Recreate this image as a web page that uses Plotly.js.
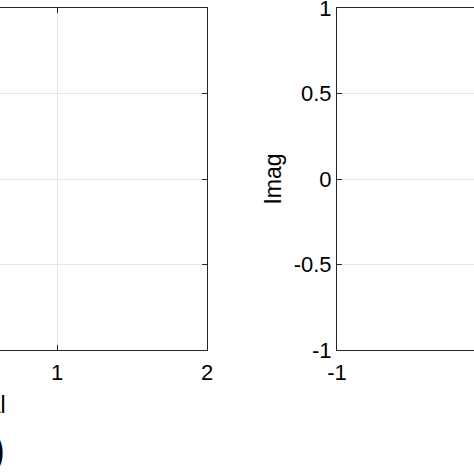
<!DOCTYPE html>
<html>
<head>
<meta charset="utf-8">
<script src="https://cdn.plot.ly/plotly-3.0.1.min.js"></script>
<style>
  html, body { margin: 0; padding: 0; width: 474px; height: 474px; overflow: hidden; background: #ffffff; }
  #grafico { position: absolute; left: -303px; top: 0; width: 1150px; height: 474px; }
</style>
</head>
<body>
<div id="grafico"></div>
<script>
// valores dos eixos (as duas figuras estao vazias neste recorte)
var ticksReal = [-1, 0, 1, 2];
var rotulosReal = ['-1', '0', '1', '2'];
var ticksImag = [-1, -0.5, 0, 0.5, 1];
var rotulosImag = ['-1', '-0.5', '0', '0.5', '1'];
var faixaReal = [-1, 2];
var faixaImag = [-1, 1];
var realEsq = [], imagEsq = [];
var realDir = [], imagDir = [];

var corEixo = '#262626';
var corGrade = '#e6e6e6';
var fonte = 'Liberation Sans, Arial, Helvetica, sans-serif';

function eixoX(dominio, ancora) {
    return {
        domain: dominio, anchor: ancora, range: faixaReal,
        tickvals: ticksReal, ticktext: rotulosReal, ticks: 'inside', ticklen: 5, tickcolor: corEixo,
        showline: true, linecolor: corEixo, linewidth: 1, mirror: 'ticks',
        showgrid: true, gridcolor: corGrade, zeroline: false,
        ticklabeloverflow: 'allow', ticklabelstandoff: 3,
        tickfont: { family: fonte, size: 22, color: '#000000' }
    };
}

function eixoY(ancora) {
    return {
        domain: [0, 1], anchor: ancora, range: faixaImag,
        tickvals: ticksImag, ticktext: rotulosImag, ticks: 'inside', ticklen: 5, tickcolor: corEixo,
        showline: true, linecolor: corEixo, linewidth: 1, mirror: 'ticks',
        showgrid: true, gridcolor: corGrade, zeroline: false,
        ticklabeloverflow: 'allow',
        tickfont: { family: fonte, size: 22, color: '#000000' }
    };
}

var traces = [
    { x: realEsq, y: imagEsq, type: 'scatter', mode: 'markers', xaxis: 'x', yaxis: 'y', showlegend: false },
    { x: realDir, y: imagDir, type: 'scatter', mode: 'markers', xaxis: 'x2', yaxis: 'y2', showlegend: false }
];

var x1 = eixoX([0, 450 / 1030], 'y');
x1.title = { text: 'Real', font: { family: fonte, size: 23, color: '#000000' }, standoff: 12 };
var y1 = eixoY('x');
var x2 = eixoX([580 / 1030, 1], 'y2');
var y2 = eixoY('x2');
y2.title = { text: 'Imag', font: { family: fonte, size: 23, color: '#000000' }, standoff: 5 };

var layout = {
    width: 1150, height: 474,
    paper_bgcolor: '#ffffff', plot_bgcolor: '#ffffff',
    margin: { t: 8, r: 60, b: 124, l: 60 },
    showlegend: false,
    xaxis: x1, yaxis: y1, xaxis2: x2, yaxis2: y2,
    annotations: [
        { text: '(a)', xref: 'paper', yref: 'paper', x: 249 / 1030, y: -0.292, xshift: 0,
          xanchor: 'right', yanchor: 'middle', showarrow: false,
          font: { family: fonte, size: 38, weight: 'bold', color: '#000000' } }
    ]
};

Plotly.newPlot('grafico', traces, layout, { displayModeBar: false, staticPlot: true });
</script>
</body>
</html>
